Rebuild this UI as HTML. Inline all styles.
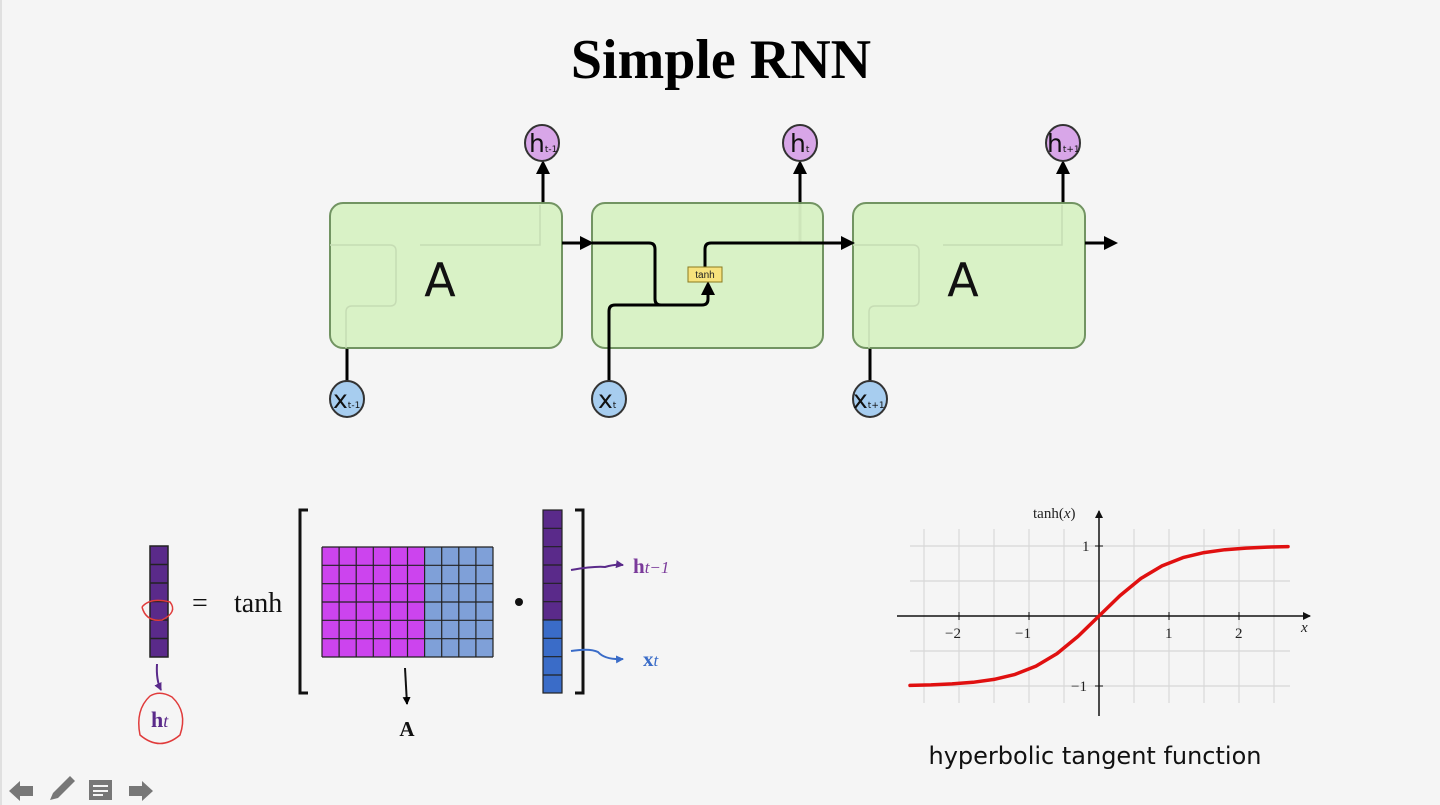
<!DOCTYPE html>
<html><head><meta charset="utf-8"><style>
html,body{margin:0;padding:0;background:#f5f5f5;}
svg{display:block;}
</style></head><body>
<svg width="1440" height="805" viewBox="0 0 1440 805" xmlns="http://www.w3.org/2000/svg">
<defs>
<marker id="ar" markerWidth="14" markerHeight="14" refX="11" refY="7" orient="auto" markerUnits="userSpaceOnUse"><path d="M0,0 L14,7 L0,14 z" fill="#000"/></marker>
<marker id="arp" markerWidth="8" markerHeight="8" refX="7" refY="4" orient="auto" markerUnits="userSpaceOnUse"><path d="M0,0 L8,4 L0,8 z" fill="#5a2a8a"/></marker>
<marker id="arb" markerWidth="8" markerHeight="8" refX="7" refY="4" orient="auto" markerUnits="userSpaceOnUse"><path d="M0,0 L8,4 L0,8 z" fill="#3a6cc8"/></marker>
<marker id="ark" markerWidth="8" markerHeight="8" refX="7" refY="4" orient="auto" markerUnits="userSpaceOnUse"><path d="M0,0 L8,4 L0,8 z" fill="#000"/></marker>
<marker id="ax" markerWidth="8" markerHeight="8" refX="7" refY="4" orient="auto" markerUnits="userSpaceOnUse"><path d="M0,0 L8,4 L0,8 z" fill="#111"/></marker>
</defs>
<rect width="1440" height="805" fill="#f5f5f5"/>
<line x1="1" y1="0" x2="1" y2="805" stroke="#ccc"/>
<text x="721" y="78" text-anchor="middle" font-family="Liberation Serif, serif" font-weight="bold" font-size="56" fill="#000">Simple RNN</text>

<!-- top diagram -->
<g stroke="#000" stroke-width="3" fill="none">
<line x1="543" y1="203" x2="543" y2="163" marker-end="url(#ar)"/>
<line x1="800" y1="243" x2="800" y2="163" marker-end="url(#ar)"/>
<line x1="1063" y1="203" x2="1063" y2="163" marker-end="url(#ar)"/>
<line x1="347" y1="348" x2="347" y2="381"/>
<line x1="870" y1="348" x2="870" y2="381"/>
</g>
<g fill="#d8f2c4" stroke="#6b8f5b" stroke-width="2" opacity="0.95">
<rect x="330" y="203" width="232" height="145" rx="13"/>
<rect x="592" y="203" width="231" height="145" rx="13"/>
<rect x="853" y="203" width="232" height="145" rx="13"/>
</g>
<g stroke="#c6dcb4" stroke-width="1.5" fill="none">
<path d="M330 245 H390 Q396 245 396 251 V300 Q396 306 390 306 H352 Q346 306 346 312 V348"/>
<path d="M420 245 H540 V205"/>
<path d="M853 245 H913 Q919 245 919 251 V300 Q919 306 913 306 H875 Q869 306 869 312 V348"/>
<path d="M943 245 H1062 V205"/>
</g>
<g stroke="#000" stroke-width="3" fill="none">
<line x1="562" y1="243" x2="591" y2="243" marker-end="url(#ar)"/>
<path d="M592 243 H649 Q655 243 655 249 V299 Q655 305 661 305"/>
<path d="M609 381 V311 Q609 305 615 305 H702 Q708 305 708 299 V284" marker-end="url(#ar)"/>
<path d="M705 267 V249 Q705 243 711 243 H852" marker-end="url(#ar)"/>
<line x1="1085" y1="243" x2="1115" y2="243" marker-end="url(#ar)"/>
</g>
<rect x="688" y="267" width="34" height="15" fill="#f7e27c" stroke="#8a7a20" stroke-width="1"/>
<text x="705" y="278" text-anchor="middle" font-family="Liberation Sans, sans-serif" font-size="10" fill="#222">tanh</text>
<g font-family="DejaVu Sans, sans-serif" font-size="46" fill="#111" text-anchor="middle">
<text x="440" y="296">A</text>
<text x="963" y="296">A</text>
</g>
<g stroke="#333" stroke-width="2">
<ellipse cx="542" cy="143" rx="17" ry="18" fill="#d8a6e8"/>
<ellipse cx="800" cy="143" rx="17" ry="18" fill="#d8a6e8"/>
<ellipse cx="1063" cy="143" rx="17" ry="18" fill="#d8a6e8"/>
<ellipse cx="347" cy="399" rx="17" ry="18" fill="#a7cdef"/>
<ellipse cx="609" cy="399" rx="17" ry="18" fill="#a7cdef"/>
<ellipse cx="870" cy="399" rx="17" ry="18" fill="#a7cdef"/>
</g>
<g font-family="DejaVu Sans, sans-serif" fill="#111">
<text x="529" y="152" font-size="25">h<tspan font-size="9">t-1</tspan></text>
<text x="790" y="152" font-size="25">h<tspan font-size="9">t</tspan></text>
<text x="1047" y="152" font-size="25">h<tspan font-size="9">t+1</tspan></text>
<text x="333" y="408" font-size="25">x<tspan font-size="9">t-1</tspan></text>
<text x="598" y="408" font-size="25">x<tspan font-size="9">t</tspan></text>
<text x="853" y="408" font-size="25">x<tspan font-size="9">t+1</tspan></text>
</g>

<!-- equation -->
<g stroke="#222" stroke-width="1.5">
<rect x="150" y="546" width="18" height="111" fill="#5a2a8a"/>
<line x1="150" y1="564.5" x2="168" y2="564.5"/><line x1="150" y1="583" x2="168" y2="583"/>
<line x1="150" y1="601.5" x2="168" y2="601.5"/><line x1="150" y1="620" x2="168" y2="620"/>
<line x1="150" y1="638.5" x2="168" y2="638.5"/>
</g>
<path d="M142 607 Q150 597 170 602 Q178 612 162 620 Q146 622 142 607" fill="none" stroke="#e03b3b" stroke-width="1.5"/>
<path d="M157 664 Q156 680 161 690" fill="none" stroke="#5a2a8a" stroke-width="2" marker-end="url(#arp)"/>
<path d="M150 696 Q135 710 140 735 Q160 752 180 735 Q188 712 172 697 Q160 690 150 696" fill="none" stroke="#e03b3b" stroke-width="1.5"/>
<text x="151" y="727" font-family="Liberation Serif, serif" font-weight="bold" font-size="22" fill="#5a2a8a">h<tspan font-style="italic" font-weight="normal" font-size="18">t</tspan></text>
<text x="192" y="612" font-family="Liberation Serif, serif" font-size="28" fill="#111">=</text>
<text x="234" y="612" font-family="Liberation Serif, serif" font-size="28" fill="#111">tanh</text>
<path d="M308 510 H300 V693 H308" fill="none" stroke="#111" stroke-width="3"/>
<path d="M575 510 H583 V693 H575" fill="none" stroke="#111" stroke-width="3"/>
<rect x="322" y="547" width="103" height="110" fill="#cc44ee"/>
<rect x="425" y="547" width="68" height="110" fill="#7fa0d8"/>
<g stroke="#222" stroke-width="1.2">
<line x1="322" y1="547" x2="493" y2="547"/><line x1="322" y1="565.3" x2="493" y2="565.3"/><line x1="322" y1="583.7" x2="493" y2="583.7"/><line x1="322" y1="602" x2="493" y2="602"/><line x1="322" y1="620.3" x2="493" y2="620.3"/><line x1="322" y1="638.7" x2="493" y2="638.7"/><line x1="322" y1="657" x2="493" y2="657"/>
<line x1="322" y1="547" x2="322" y2="657"/><line x1="339.1" y1="547" x2="339.1" y2="657"/><line x1="356.2" y1="547" x2="356.2" y2="657"/><line x1="373.3" y1="547" x2="373.3" y2="657"/><line x1="390.4" y1="547" x2="390.4" y2="657"/><line x1="407.5" y1="547" x2="407.5" y2="657"/><line x1="424.6" y1="547" x2="424.6" y2="657"/><line x1="441.7" y1="547" x2="441.7" y2="657"/><line x1="458.8" y1="547" x2="458.8" y2="657"/><line x1="475.9" y1="547" x2="475.9" y2="657"/><line x1="493" y1="547" x2="493" y2="657"/>
</g>
<circle cx="519" cy="602" r="4" fill="#111"/>
<rect x="543" y="510" width="19" height="110" fill="#5a2a8a" stroke="#222" stroke-width="1.2"/>
<rect x="543" y="620" width="19" height="73" fill="#3a6cc8" stroke="#222" stroke-width="1.2"/>
<g stroke="#222" stroke-width="1.2">
<line x1="543" y1="528.3" x2="562" y2="528.3"/><line x1="543" y1="546.7" x2="562" y2="546.7"/><line x1="543" y1="565" x2="562" y2="565"/><line x1="543" y1="583.3" x2="562" y2="583.3"/><line x1="543" y1="601.7" x2="562" y2="601.7"/><line x1="543" y1="638.3" x2="562" y2="638.3"/><line x1="543" y1="656.7" x2="562" y2="656.7"/><line x1="543" y1="675" x2="562" y2="675"/>
</g>
<path d="M571 570 Q595 566 605 567 Q615 564 623 565" fill="none" stroke="#5a2a8a" stroke-width="2" marker-end="url(#arp)"/>
<text x="633" y="573" font-family="Liberation Serif, serif" font-weight="bold" font-size="21" fill="#7a3a9a">h<tspan font-style="italic" font-weight="normal" font-size="17">t−1</tspan></text>
<path d="M571 651 Q590 648 598 652 Q605 660 623 659" fill="none" stroke="#3a6cc8" stroke-width="2" marker-end="url(#arb)"/>
<text x="643" y="666" font-family="Liberation Serif, serif" font-weight="bold" font-size="21" fill="#3a6cc8">x<tspan font-style="italic" font-weight="normal" font-size="17">t</tspan></text>
<line x1="405" y1="668" x2="407" y2="704" stroke="#111" stroke-width="2" marker-end="url(#ark)"/>
<text x="407" y="736" text-anchor="middle" font-family="Liberation Serif, serif" font-weight="bold" font-size="21" fill="#111">A</text>

<!-- graph -->
<g stroke="#d8d8d8" stroke-width="1.2">
<line x1="924" y1="529" x2="924" y2="703"/><line x1="959" y1="529" x2="959" y2="703"/><line x1="994" y1="529" x2="994" y2="703"/><line x1="1029" y1="529" x2="1029" y2="703"/><line x1="1064" y1="529" x2="1064" y2="703"/><line x1="1134" y1="529" x2="1134" y2="703"/><line x1="1169" y1="529" x2="1169" y2="703"/><line x1="1204" y1="529" x2="1204" y2="703"/><line x1="1239" y1="529" x2="1239" y2="703"/><line x1="1274" y1="529" x2="1274" y2="703"/>
<line x1="910" y1="546" x2="1290" y2="546"/><line x1="910" y1="581" x2="1290" y2="581"/><line x1="910" y1="651" x2="1290" y2="651"/><line x1="910" y1="686" x2="1290" y2="686"/>
</g>
<line x1="897" y1="616" x2="1310" y2="616" stroke="#111" stroke-width="1.5" marker-end="url(#ax)"/>
<line x1="1099" y1="716" x2="1099" y2="511" stroke="#111" stroke-width="1.5" marker-end="url(#ax)"/>
<g stroke="#111" stroke-width="1"><line x1="1095" y1="546" x2="1103" y2="546"/><line x1="1095" y1="686" x2="1103" y2="686"/><line x1="959" y1="612" x2="959" y2="620"/><line x1="1029" y1="612" x2="1029" y2="620"/><line x1="1169" y1="612" x2="1169" y2="620"/><line x1="1239" y1="612" x2="1239" y2="620"/></g>
<polyline fill="none" stroke="#e01010" stroke-width="3.5" stroke-linecap="round" stroke-linejoin="round" points="910,685.4 931,684.9 952,683.9 973,682.3 994,679.4 1015,674.4 1036,666.1 1057,653.6 1078,636.4 1099,616 1120,595.6 1141,578.4 1162,565.9 1183,557.6 1204,552.6 1225,549.7 1246,548.1 1267,547.1 1288,546.6"/>
<g font-family="Liberation Serif, serif" font-size="15" fill="#222">
<text x="1033" y="518">tanh(<tspan font-style="italic">x</tspan>)</text>
<text x="1082" y="551">1</text>
<text x="1071" y="691">−1</text>
<text x="945" y="638">−2</text>
<text x="1015" y="638">−1</text>
<text x="1165" y="638">1</text>
<text x="1235" y="638">2</text>
<text x="1301" y="632" font-style="italic">x</text>
</g>
<text x="1095" y="764" text-anchor="middle" font-family="DejaVu Sans, sans-serif" font-size="24" fill="#111">hyperbolic tangent function</text>

<!-- toolbar -->
<g fill="#777">
<path d="M9 791 L20 781 V786 H33 V796 H20 V801 Z"/>
<path d="M50 800 L53 793 L70 776 L75 781 L58 798 Z"/>
<rect x="89" y="780" width="23" height="20"/>
<path d="M153 791 L142 781 V786 H129 V796 H142 V801 Z"/>
</g>
<g stroke="#f5f5f5" stroke-width="2"><line x1="93" y1="786" x2="108" y2="786"/><line x1="93" y1="791" x2="108" y2="791"/><line x1="93" y1="795" x2="103" y2="795"/></g>
</svg>
</body></html>
